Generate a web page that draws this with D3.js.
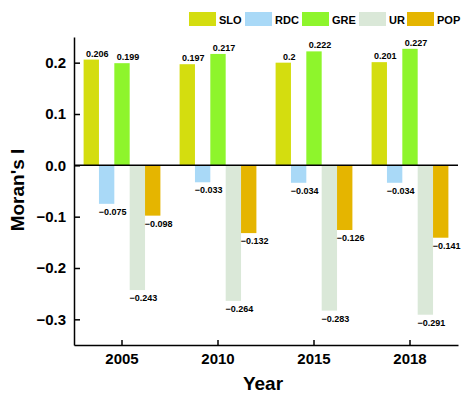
<!DOCTYPE html>
<html>
<head>
<meta charset="utf-8">
<script src="https://cdn.jsdelivr.net/npm/d3@7"></script>
<style>
  body { margin: 0; background: #fff; }
  text { font-family: "Liberation Sans", Arial, sans-serif; font-weight: bold; }
</style>
</head>
<body>
<svg id="chart" width="474" height="399"></svg>
<script>
const years  = ['2005', '2010', '2015', '2018'];
const series = ['SLO', 'RDC', 'GRE', 'UR', 'POP'];
const colors = ['#d4dd0f', '#a9d9f7', '#8ef52c', '#dae8d8', '#e5b500'];

const SLO = [0.206, 0.197, 0.2, 0.201];
const RDC = [-0.075, -0.033, -0.034, -0.034];
const GRE = [0.199, 0.217, 0.222, 0.227];
const UR  = [-0.243, -0.264, -0.283, -0.291];
const POP = [-0.098, -0.132, -0.126, -0.141];

const yTicks = [-0.3, -0.2, -0.1, 0.0, 0.1, 0.2];

const values = { SLO, RDC, GRE, UR, POP };

const svg = d3.select('#chart');
const plotLeft = 74, plotRight = 458, plotTop = 37, plotBottom = 345;

const x = d3.scaleBand().domain(years).range([plotLeft, plotRight])
  .paddingInner(0.2).paddingOuter(0.1);
const xs = d3.scaleBand().domain(series).range([0, x.bandwidth()]);
const y = d3.scaleLinear().domain([-0.35, 0.25]).range([plotBottom, plotTop]);
const color = d3.scaleOrdinal().domain(series).range(colors);

const minus = s => s.replace('-', '\u2212');

// bars
const groups = svg.append('g').selectAll('g')
  .data(years).enter().append('g')
  .attr('transform', d => `translate(${x(d)},0)`);

groups.selectAll('rect')
  .data((yr, i) => series.map(s => ({ s, v: values[s][i] })))
  .enter().append('rect')
  .attr('x', d => xs(d.s))
  .attr('width', xs.bandwidth())
  .attr('y', d => y(Math.max(0, d.v)))
  .attr('height', d => Math.abs(y(d.v) - y(0)))
  .attr('fill', d => color(d.s));

groups.selectAll('text.val')
  .data((yr, i) => series.map(s => ({ s, v: values[s][i] })))
  .enter().append('text')
  .attr('class', 'val')
  .attr('x', d => xs(d.s) + xs.bandwidth() / 2 + 6)
  .attr('y', d => d.v >= 0 ? y(d.v) - 3 : y(d.v) + 11)
  .attr('text-anchor', 'middle')
  .style('font-size', '9px')
  .text(d => minus(String(d.v)));

// zero line
svg.append('line')
  .attr('x1', plotLeft).attr('x2', plotRight)
  .attr('y1', y(0)).attr('y2', y(0))
  .attr('stroke', '#000').attr('stroke-width', 1.5);

// y axis
const yAxis = svg.append('g')
  .attr('transform', `translate(${plotLeft},0)`)
  .call(d3.axisLeft(y).tickValues(yTicks).tickSizeInner(-6).tickSizeOuter(0)
    .tickPadding(8).tickFormat(d => minus(d3.format('.1f')(d))));
yAxis.select('.domain').attr('stroke-width', 1.5);
yAxis.selectAll('.tick line').attr('stroke-width', 1.5);
yAxis.selectAll('.tick text').style('font-size', '15px')
  .style('font-family', '"Liberation Sans", Arial, sans-serif').style('font-weight', 'bold');

// x axis
const xAxis = svg.append('g')
  .attr('transform', `translate(0,${plotBottom})`)
  .call(d3.axisBottom(x).tickSizeInner(-5).tickSizeOuter(0).tickPadding(8));
xAxis.select('.domain').attr('stroke-width', 1.5);
xAxis.selectAll('.tick line').attr('stroke-width', 1.5);
xAxis.selectAll('.tick text').style('font-size', '15px')
  .style('font-family', '"Liberation Sans", Arial, sans-serif').style('font-weight', 'bold');

// titles
svg.append('text')
  .attr('x', 263).attr('y', 390)
  .attr('text-anchor', 'middle')
  .style('font-size', '19px')
  .text('Year');

svg.append('text')
  .attr('transform', 'translate(24,190) rotate(-90)')
  .attr('text-anchor', 'middle')
  .style('font-size', '19px')
  .text("Moran's I");

// legend
const legX = [189, 245, 302, 359, 407];
const legend = svg.append('g').selectAll('g')
  .data(series).enter().append('g')
  .attr('transform', (d, i) => `translate(${legX[i]},12)`);
legend.append('rect')
  .attr('width', 27).attr('height', 14)
  .attr('fill', d => color(d));
legend.append('text')
  .attr('x', 30).attr('y', 11.5)
  .style('font-size', '11px')
  .text(d => d);
</script>
</body>
</html>
